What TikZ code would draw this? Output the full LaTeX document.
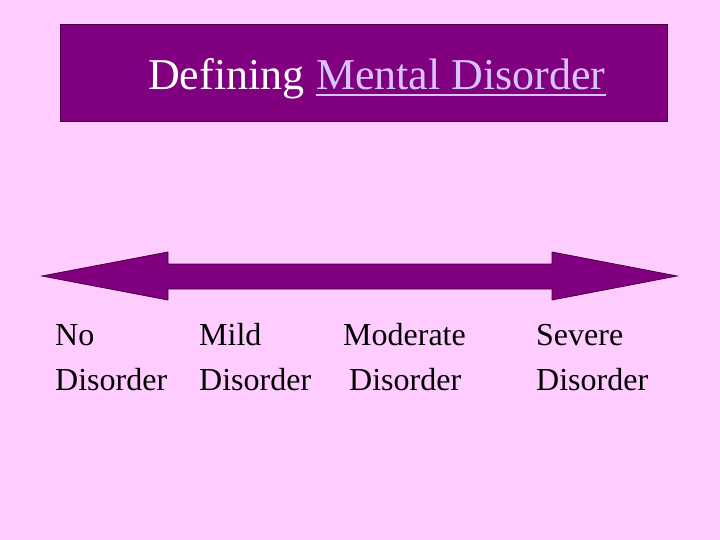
\documentclass[tikz,border=0pt]{standalone}
\usepackage{fontspec}
\setmainfont{Liberation Serif}
\definecolor{bgpink}{HTML}{FFCCFF}
\definecolor{plum}{HTML}{800080}
\definecolor{darkplum}{HTML}{4A0040}
\definecolor{lav}{HTML}{D8C4FF}
\tikzset{
  lbl/.style={anchor=base west, inner sep=0pt, align=left, text=black,
    font=\fontsize{32}{45}\selectfont},
}
\begin{document}
\begin{tikzpicture}[x=1pt,y=-1pt]
\fill[bgpink] (0,0) rectangle (720,540);
\useasboundingbox (0,0) rectangle (720,540);
% title box
\node[draw=darkplum, fill=plum, line width=0.8pt, minimum width=607pt, minimum height=97pt,
  anchor=north west, inner sep=0pt] (box) at (60,24) {};
\node[anchor=base west, inner sep=0pt, text=white, font=\fontsize{44}{50}\selectfont] (t1) at (148,90) {Defining};
\node[anchor=base west, inner sep=0pt, text=lav, font=\fontsize{44}{50}\selectfont] (t2) at ([xshift=11pt]t1.base east) {Mental Disorder};
\fill[lav] ([yshift=-4pt]t2.base west) rectangle ([yshift=-6.5pt]t2.base east);
% double arrow
\draw[fill=plum, draw=darkplum, line width=0.8pt, line join=miter]
  (42,276) -- (168,252) -- (168,264) -- (552,264) -- (552,252) -- (677,276)
  -- (552,300) -- (552,289) -- (168,289) -- (168,300) -- cycle;
% labels
\node[lbl] (l1) at (55,390) {No\\Disorder};
\node[lbl] (l2) at (199,390) {Mild\\Disorder};
\node[lbl] (l3) at (343,390) {Moderate\\\hspace*{6pt}Disorder};
\node[lbl] (l4) at (536,390) {Severe\\Disorder};
\end{tikzpicture}
\end{document}
